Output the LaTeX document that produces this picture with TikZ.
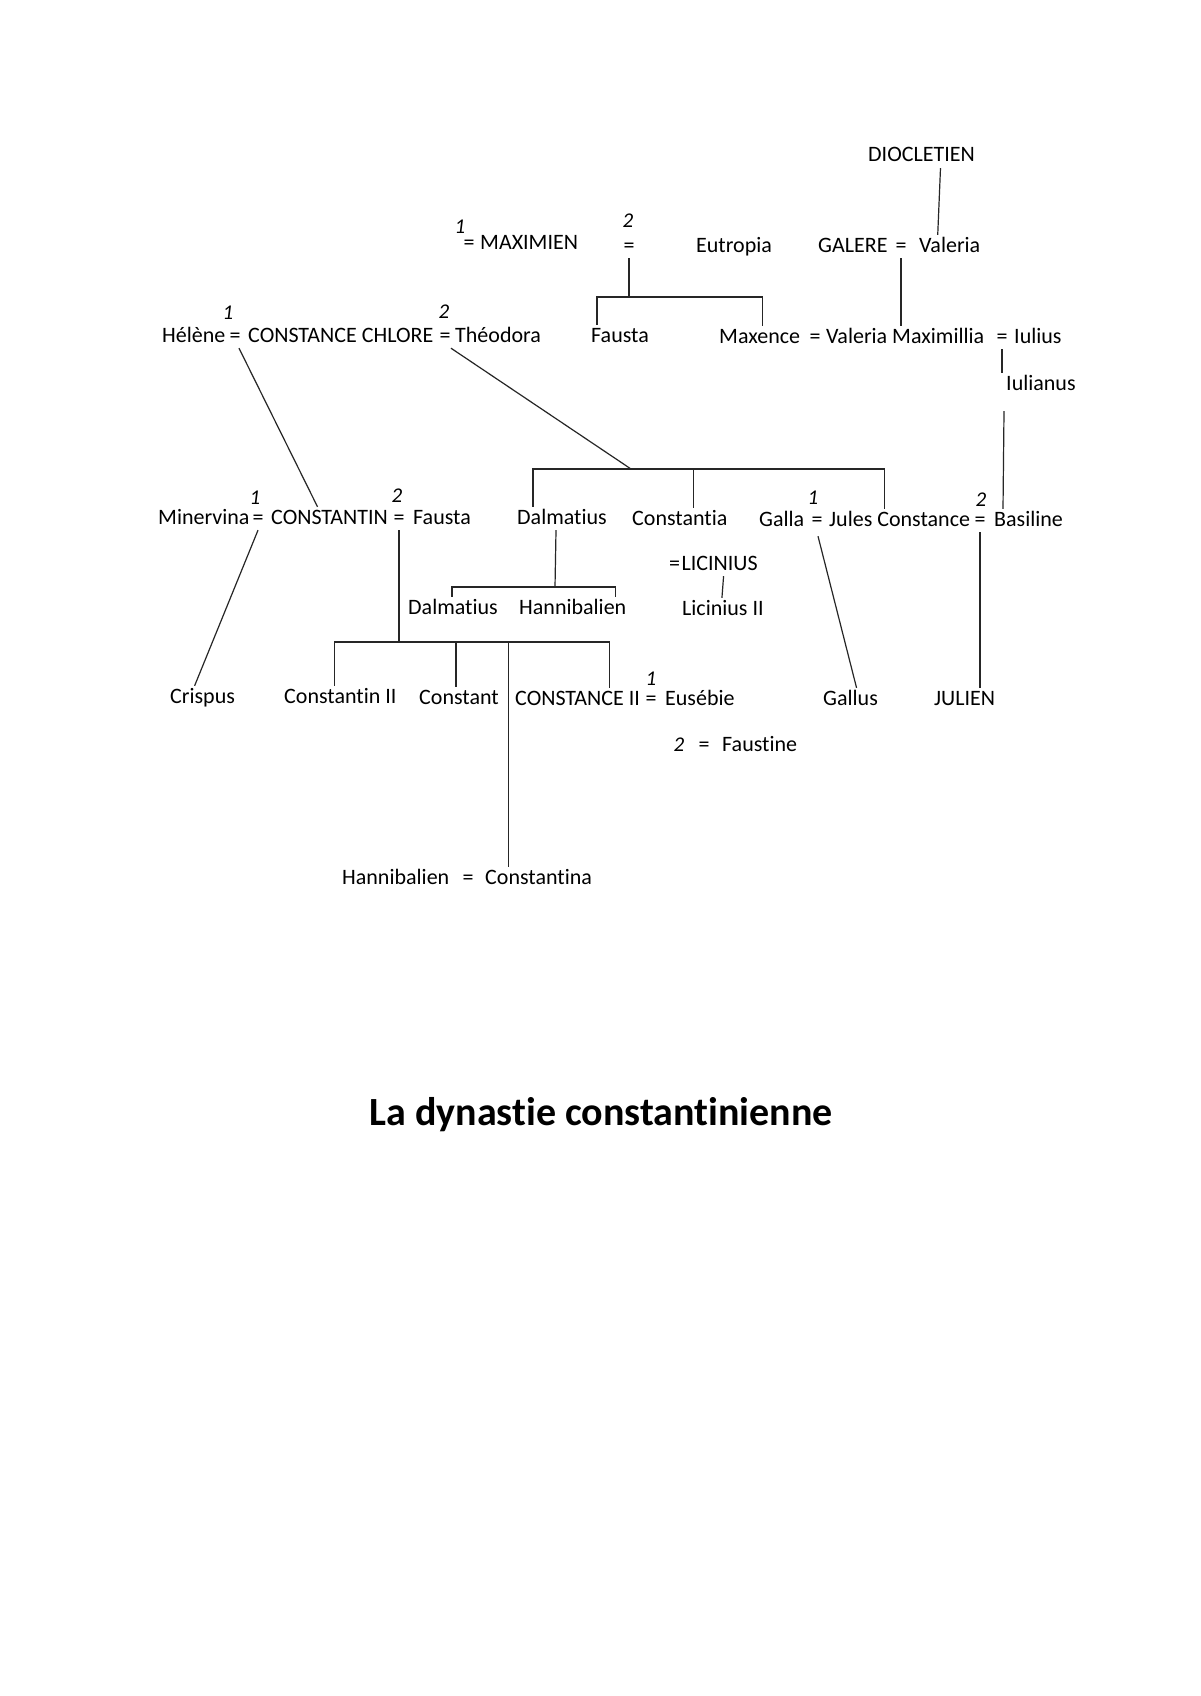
\documentclass[tikz,border=0pt]{standalone}
\usepackage{fontspec}
\setmainfont[Ligatures={NoCommon,NoContextual,NoRequired},Contextuals=NoAlternate]{Carlito}
\usetikzlibrary{calc}
\tikzset{
  x=1pt, y=-1pt,
  nm/.style={anchor=base west, inner sep=1pt, text height=16pt, text depth=5pt, font=\fontsize{22}{26}\selectfont},
  eqs/.style={anchor=base, inner sep=1pt, text height=16pt, text depth=5pt, font=\fontsize{22}{26}\selectfont},
  mk/.style={anchor=center, inner sep=0pt, font=\fontsize{21}{24}\selectfont\itshape},
  link/.style={line width=1.2pt, black!85},
}
\begin{document}
\begin{tikzpicture}
\fill[white] (0,0) rectangle (1200,1696);
\useasboundingbox (0,0) rectangle (1200,1696);

% row 0
\node[nm] (dio) at (867,162) {DIOCLETIEN};
% row 1
\node[mk] (m1a) at (460,227) {1};
\node[eqs] (eqMax) at (469,250) {=};
\node[nm] (maximien) at (479,250) {MAXIMIEN};
\node[mk] (m2a) at (628,221) {2};
\node[eqs] (eqEut) at (629,252) {=};
\node[nm] (eutropia) at (695,252) {Eutropia};
\node[nm] (galere) at (817,252) {GALERE};
\node[eqs] (eqGal) at (901,252) {=};
\node[nm] (valeria) at (918,252) {Valeria};
% row 2
\node[mk] (m1b) at (228,313) {1};
\node[mk] (m2b) at (444,312) {2};
\node[nm] (helene) at (161,342) {Hélène};
\node[eqs] (eqHel) at (235,342) {=};
\node[nm] (chlore) at (247,342) {CONSTANCE CHLORE};
\node[eqs] (eqTheo) at (445,342) {=};
\node[nm] (theodora) at (454,342) {Théodora};
\node[nm] (fausta1) at (590,342) {Fausta};
\node[nm] (maxence) at (718,343) {Maxence};
\node[eqs] (eqMaxen) at (815,343) {=};
\node[nm] (vm) at (825,343) {Valeria Maximillia};
\node[eqs] (eqIul) at (1002,343) {=};
\node[nm] (iulius) at (1013,343) {Iulius};
\node[nm] (iulianus) at (1005,390) {Iulianus};
% row 3
\node[mk] (m1c) at (255,498) {1};
\node[nm] (minervina) at (157,524) {Minervina};
\node[eqs] (eqMin) at (258,524) {=};
\node[nm] (constantin) at (270,524) {CONSTANTIN};
\node[mk] (m2c) at (397,496) {2};
\node[eqs] (eqCon) at (399,524) {=};
\node[nm] (fausta2) at (412,524) {Fausta};
\node[nm] (dalm1) at (516,524) {Dalmatius};
\node[nm] (constantia) at (631,525) {Constantia};
\node[mk] (m1d) at (813,498) {1};
\node[nm] (galla) at (758,526) {Galla};
\node[eqs] (eqGalla) at (817,526) {=};
\node[nm] (julesC) at (828,526) {Jules Constance};
\node[mk] (m2d) at (981,500) {2};
\node[eqs] (eqBas) at (980,526) {=};
\node[nm] (basiline) at (993,526) {Basiline};
% row 4
\node[nm] (eqLic) at (668,570) {=};
\node[nm, inner xsep=0pt] (licinius) at (eqLic.base east) {LICINIUS};
\node[nm] (licII) at (681,615) {Licinius II};
\node[nm] (dalm2) at (407,614) {Dalmatius};
\node[nm] (hannib1) at (518,614) {Hannibalien};
% row 5
\node[nm] (crispus) at (169,703) {Crispus};
\node[nm] (constII) at (283,703) {Constantin II};
\node[nm] (constant) at (418,704) {Constant};
\node[nm] (constanceII) at (514,705) {CONSTANCE II};
\node[mk] (m1e) at (651,679) {1};
\node[eqs] (eqEus) at (651,705) {=};
\node[nm] (eusebie) at (664,705) {Eusébie};
\node[nm] (gallus) at (822,705) {Gallus};
\node[nm] (julien) at (933,705) {JULIEN};
\node[mk] (m2e) at (679,745) {2};
\node[eqs] (eqFaus) at (704,751) {=};
\node[nm] (faustine) at (721,751) {Faustine};
% row 6
\node[nm] (hannib2) at (341,884) {Hannibalien};
\node[eqs] (eqConst) at (468,884) {=};
\node[nm] (constantina) at (484,884) {Constantina};
% title
\node[font=\fontsize{40}{46}\selectfont\bfseries, anchor=center] (title) at (601,1115) {La dynastie constantinienne};

% bar points
\coordinate (barA) at (629,297);
\coordinate (barB) at (631,469);
\coordinate (barC) at (399,642);
\coordinate (barD) at (555,587);

% connectors
\draw[link] ($(dio.south)+(19,0)$) -- ($(valeria.north)+(-12,0)$);
\draw[link] (eqGal.south) -- (eqGal.south |- vm.north);
\draw[link] (eqEut.south) -- (barA);
\draw[link] ($(fausta1.north)+(-23,0)$) |- (barA);
\draw[link] ($(maxence.north)+(3,0)$) |- (barA);
\draw[link] (eqIul.south) -- (eqIul.south |- iulianus.north);
\draw[link] ($(iulianus.south west)+(-1,15)$) -- ($(basiline.north west)+(10,0)$);

\draw[link] ($(eqTheo.south)+(6,0)$) -- (barB);
\draw[link] ($(dalm1.north)+(-29,0)$) |- (barB);
\draw[link] ($(constantia.north)+(14,0)$) |- (barB);
\draw[link] ($(julesC.north)+(-15,0)$) |- (barB);
\draw[link] ($(eqHel.south)+(4,0)$) -- ($(constantin.north)+(-12,0)$);

\draw[link] (eqMin.south) -- ($(crispus.north)+(-8,0)$);
\draw[link] (eqCon.south) -- (barC);
\draw[link] ($(constII.north)+(-6,0)$) |- (barC);
\draw[link] ($(constant.north)+(-3,0)$) |- (barC);
\draw[link] ($(constantina.north)+(-30,0)$) |- (barC);
\draw[link] ($(constanceII.north)+(32,0)$) |- (barC);

\draw[link] ($(dalm1.south)+(-6,0)$) -- (barD);
\draw[link] ($(dalm2.north)+(-1,0)$) |- (barD);
\draw[link] ($(hannib1.north)+(43,0)$) |- (barD);

\draw[link] ($(licinius.south)+(4,0)$) -- ($(licII.north)+(-1,0)$);
\draw[link] ($(eqGalla.south)+(1,4)$) -- ($(gallus.north)+(6,0)$);
\draw[link] (eqBas.south) -- (eqBas.south |- julien.north);
\end{tikzpicture}
\end{document}
